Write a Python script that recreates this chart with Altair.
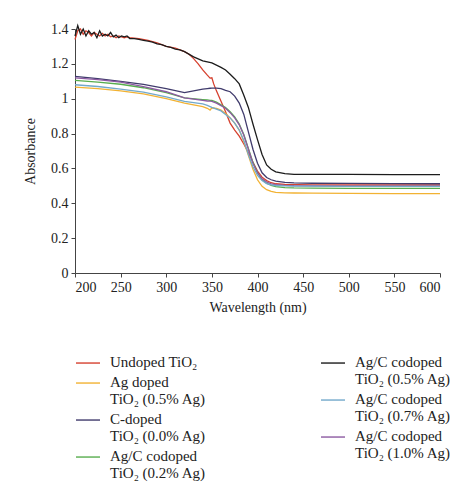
import altair as alt
import pandas as pd

# ---------------- data ----------------
S_RED = "Undoped TiO₂"
S_YEL = "Ag doped|TiO₂ (0.5% Ag)"
S_NAV = "C-doped|TiO₂ (0.0% Ag)"
S_GRN = "Ag/C codoped|TiO₂ (0.2% Ag)"
S_BLK = "Ag/C codoped|TiO₂ (0.5% Ag)"
S_BLU = "Ag/C codoped|TiO₂ (0.7% Ag)"
S_PUR = "Ag/C codoped|TiO₂ (1.0% Ag)"

left_series = [S_RED, S_YEL, S_NAV, S_GRN]
left_colors = ["#d6412f", "#f2b233", "#403b6c", "#58ad4e"]
right_series = [S_BLK, S_BLU, S_PUR]
right_colors = ["#1c1c1c", "#72a9cb", "#8c5aa2"]

# noisy start region (200-260 nm)
wl_noisy = [200, 203, 206, 209, 212, 215, 218, 221, 224, 227, 230, 233, 236, 239, 242, 245, 248, 251, 254, 257, 260]
red_noisy = [1.34, 1.39, 1.40, 1.37, 1.39, 1.38, 1.36, 1.38, 1.37, 1.36, 1.375, 1.36, 1.37, 1.355, 1.36, 1.35, 1.36, 1.355, 1.35, 1.355, 1.35]
blk_noisy = [1.36, 1.42, 1.37, 1.40, 1.36, 1.39, 1.37, 1.38, 1.35, 1.39, 1.36, 1.37, 1.36, 1.38, 1.355, 1.365, 1.35, 1.36, 1.355, 1.36, 1.345]

wl_red_tail = [270, 280, 290, 300, 310, 320, 325, 330, 335, 340, 345, 348, 350, 352, 355, 360, 365, 370, 375, 380, 385, 390, 395, 400, 405, 410, 415, 420, 430, 460, 500, 550, 600]
red_tail = [1.345, 1.335, 1.32, 1.30, 1.29, 1.27, 1.255, 1.23, 1.20, 1.165, 1.135, 1.118, 1.12, 1.085, 1.045, 0.985, 0.925, 0.86, 0.82, 0.785, 0.74, 0.69, 0.635, 0.585, 0.55, 0.53, 0.518, 0.512, 0.508, 0.506, 0.505, 0.505, 0.505]

wl_blk_tail = [265, 270, 275, 280, 285, 290, 295, 300, 305, 310, 315, 320, 330, 340, 350, 360, 365, 370, 375, 380, 385, 390, 395, 400, 405, 410, 415, 420, 430, 440, 460, 500, 550, 600]
blk_tail = [1.345, 1.34, 1.335, 1.33, 1.325, 1.315, 1.31, 1.30, 1.295, 1.285, 1.28, 1.27, 1.24, 1.217, 1.205, 1.18, 1.165, 1.14, 1.115, 1.085, 1.02, 0.95, 0.855, 0.765, 0.68, 0.62, 0.595, 0.58, 0.57, 0.566, 0.566, 0.566, 0.565, 0.565]

wl_smooth = [200, 225, 250, 275, 300, 320, 340, 345, 348, 350, 355, 360, 365, 370, 375, 380, 385, 390, 395, 400, 405, 410, 415, 420, 430, 440, 460, 500, 550, 600]
nav_vals = [1.128, 1.115, 1.10, 1.082, 1.058, 1.035, 1.055, 1.058, 1.06, 1.061, 1.061, 1.058, 1.048, 1.04, 1.015, 0.975, 0.91, 0.81, 0.71, 0.63, 0.575, 0.548, 0.535, 0.527, 0.52, 0.517, 0.515, 0.514, 0.513, 0.512]
pur_vals = [1.12, 1.11, 1.095, 1.07, 1.04, 1.005, 0.99, 0.987, 0.986, 0.985, 0.975, 0.96, 0.945, 0.92, 0.89, 0.85, 0.79, 0.71, 0.63, 0.575, 0.54, 0.522, 0.512, 0.507, 0.503, 0.501, 0.50, 0.499, 0.498, 0.498]
grn_vals = [1.105, 1.095, 1.083, 1.063, 1.035, 1.005, 0.995, 0.993, 0.991, 0.99, 0.98, 0.965, 0.95, 0.925, 0.895, 0.855, 0.795, 0.715, 0.635, 0.575, 0.535, 0.515, 0.503, 0.496, 0.49, 0.488, 0.487, 0.486, 0.485, 0.485]
blu_vals = [1.08, 1.07, 1.055, 1.038, 1.01, 0.985, 0.97, 0.962, 0.955, 0.95, 0.94, 0.93, 0.91, 0.89, 0.86, 0.82, 0.76, 0.68, 0.61, 0.56, 0.53, 0.513, 0.505, 0.502, 0.50, 0.499, 0.498, 0.497, 0.497, 0.497]
yel_vals = [1.067, 1.058, 1.045, 1.028, 1.0, 0.975, 0.955, 0.945, 0.935, 0.948, 0.945, 0.935, 0.915, 0.89, 0.86, 0.82, 0.755, 0.675, 0.595, 0.535, 0.497, 0.478, 0.468, 0.463, 0.46, 0.459, 0.458, 0.457, 0.456, 0.456]

x_ticks = [200, 250, 300, 350, 400, 450, 500, 550, 600]
y_ticks = [0, 0.2, 0.4, 0.6, 0.8, 1.0, 1.2, 1.4]

# ---------------- table ----------------
rows = []
def add(name, wls, vals):
    for i, (w, v) in enumerate(zip(wls, vals)):
        rows.append({"series": name, "wl": w, "A": v, "order": i})

add(S_RED, wl_noisy + wl_red_tail, red_noisy + red_tail)
add(S_BLK, wl_noisy + wl_blk_tail, blk_noisy + blk_tail)
add(S_NAV, wl_smooth, nav_vals)
add(S_PUR, wl_smooth, pur_vals)
add(S_GRN, wl_smooth, grn_vals)
add(S_BLU, wl_smooth, blu_vals)
add(S_YEL, wl_smooth, yel_vals)
df = pd.DataFrame(rows)

SERIF = "Liberation Serif"

x_enc = alt.X("wl:Q", scale=alt.Scale(domain=[200, 600], nice=False),
              axis=alt.Axis(values=x_ticks, title="Wavelength (nm)", grid=False,
                            tickSize=4, labelFont=SERIF, labelFontSize=14, labelColor="#222",
                            titleFont=SERIF, titleFontSize=14, titleFontWeight="normal",
                            titleColor="#222", domainColor="#444", tickColor="#444",
                            labelPadding=3, titlePadding=6))
y_enc = alt.Y("A:Q", scale=alt.Scale(domain=[0, 1.4], nice=False),
              axis=alt.Axis(values=y_ticks, format="~f", title="Absorbance", grid=False,
                            tickSize=4, labelFont=SERIF, labelFontSize=14, labelColor="#222",
                            titleFont=SERIF, titleFontSize=14, titleFontWeight="normal",
                            titleColor="#222", domainColor="#444", tickColor="#444",
                            labelPadding=3, titlePadding=13))

def legend(x, y):
    return alt.Legend(orient="none", legendX=x, legendY=y, title=None,
                      symbolType="M-1,-0.33L1,-0.33", symbolSize=576, symbolStrokeWidth=1.4,
                      labelFont=SERIF, labelFontSize=15, labelColor="#222",
                      labelBaseline="alphabetic", labelOffset=9, rowPadding=4,
                      labelLimit=300, labelExpr="split(datum.label, '|')")

left = alt.Chart(df).transform_filter(
    alt.FieldOneOfPredicate(field="series", oneOf=left_series)
).mark_line(strokeWidth=1.3).encode(
    x=x_enc, y=y_enc, order="order:Q",
    color=alt.Color("series:N", scale=alt.Scale(domain=left_series, range=left_colors),
                    sort=left_series, legend=legend(0, 325)),
)

right = alt.Chart(df).transform_filter(
    alt.FieldOneOfPredicate(field="series", oneOf=right_series)
).mark_line(strokeWidth=1.3).encode(
    x=x_enc, y=y_enc, order="order:Q",
    color=alt.Color("series:N", scale=alt.Scale(domain=right_series, range=right_colors),
                    sort=right_series, legend=legend(245, 325)),
)

chart = alt.layer(left, right).resolve_scale(color="independent").properties(
    width=365, height=244,
    autosize=alt.AutoSizeParams(type="none"),
    padding={"left": 75, "top": 29, "right": 34, "bottom": 227},
    background="white",
).configure_view(stroke=None)

chart.save("out.html", embed_options={"renderer": "svg", "actions": False})
